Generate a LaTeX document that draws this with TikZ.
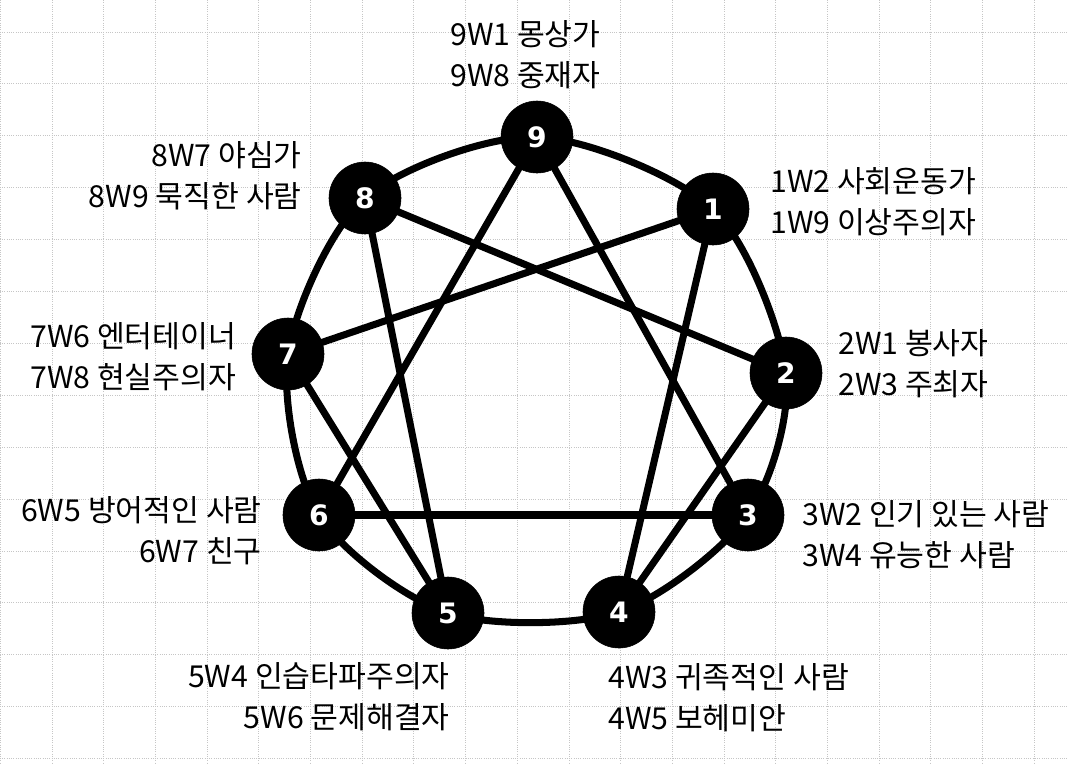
\documentclass[tikz,border=0pt]{standalone}
\usepackage{fontspec}
\newfontfamily\numfont{DejaVu Sans}
\newfontfamily\kor{Noto Sans CJK KR}
\usepackage{tikz}
\usetikzlibrary{positioning, backgrounds}

\begin{document}
\begin{tikzpicture}[x=0.025cm, y=-0.025cm]
% Define styles
\tikzstyle{num} = [circle, fill=black, draw=black, minimum size=1.8cm, inner sep=0pt, text=white, font=\numfont\bfseries\fontsize{20}{20}\selectfont]
\tikzstyle{lbl} = [inner sep=0pt, font=\kor\fontsize{21.5}{29}\selectfont]
\tikzstyle{gridline} = [gray!45, densely dotted, line width=0.6pt]
\tikzstyle{thick line} = [line width=5pt, line cap=round]
\useasboundingbox (0,0) rectangle (1067,764);
% Define nodes
\node[num] (num_9) at (537,137) {9};
\node[num] (num_1) at (713,209) {1};
\node[num] (num_2) at (786,373) {2};
\node[num] (num_3) at (748,515) {3};
\node[num] (num_4) at (619,612) {4};
\node[num] (num_5) at (448,613) {5};
\node[num] (num_6) at (319,515) {6};
\node[num] (num_7) at (288,354) {7};
\node[num] (num_8) at (365,198) {8};
% Labels
\node[lbl, anchor=west, align=left] (lbl_9) at (450,55) {9W1 몽상가\\9W8 중재자};
\node[lbl, anchor=west, align=left] (lbl_1) at (770,202) {1W2 사회운동가\\1W9 이상주의자};
\node[lbl, anchor=west, align=left] (lbl_2) at (838,364) {2W1 봉사자\\2W3 주최자};
\node[lbl, anchor=west, align=left] (lbl_3) at (802,535) {3W2 인기 있는 사람\\3W4 유능한 사람};
\node[lbl, anchor=west, align=left] (lbl_4) at (608,698) {4W3 귀족적인 사람\\4W5 보헤미안};
\node[lbl, anchor=east, align=right] (lbl_5) at (450,697) {5W4 인습타파주의자\\5W6 문제해결자};
\node[lbl, anchor=east, align=right] (lbl_6) at (262,531) {6W5 방어적인 사람\\6W7 친구};
\node[lbl, anchor=west, align=left] (lbl_7) at (30,357) {7W6 엔터테이너\\7W8 현실주의자};
\node[lbl, anchor=east, align=right] (lbl_8) at (302,176) {8W7 야심가\\8W9 묵직한 사람};
% Paper and outer circle
\begin{scope}[on background layer]
\fill[white] (0,0) rectangle (1067,764);
\foreach \i in {0,...,20} {\draw[gridline] (0.3+51.7*\i,0) -- (0.3+51.7*\i,764);}
\foreach \j in {0,...,14} {\draw[gridline] (0,32+51.9*\j) -- (1067,32+51.9*\j);}
\draw[thick line] plot[smooth cycle] coordinates {(num_9.center) (num_1.center) (num_2.center) (num_3.center) (num_4.center) (num_5.center) (num_6.center) (num_7.center) (num_8.center)};
\end{scope}
% Connect the nodes
\draw[thick line] (num_9) -- (num_3);
\draw[thick line] (num_3) -- (num_6);
\draw[thick line] (num_6) -- (num_9);
\draw[thick line] (num_1) -- (num_4);
\draw[thick line] (num_4) -- (num_2);
\draw[thick line] (num_2) -- (num_8);
\draw[thick line] (num_8) -- (num_5);
\draw[thick line] (num_5) -- (num_7);
\draw[thick line] (num_7) -- (num_1);
\end{tikzpicture}
\end{document}
